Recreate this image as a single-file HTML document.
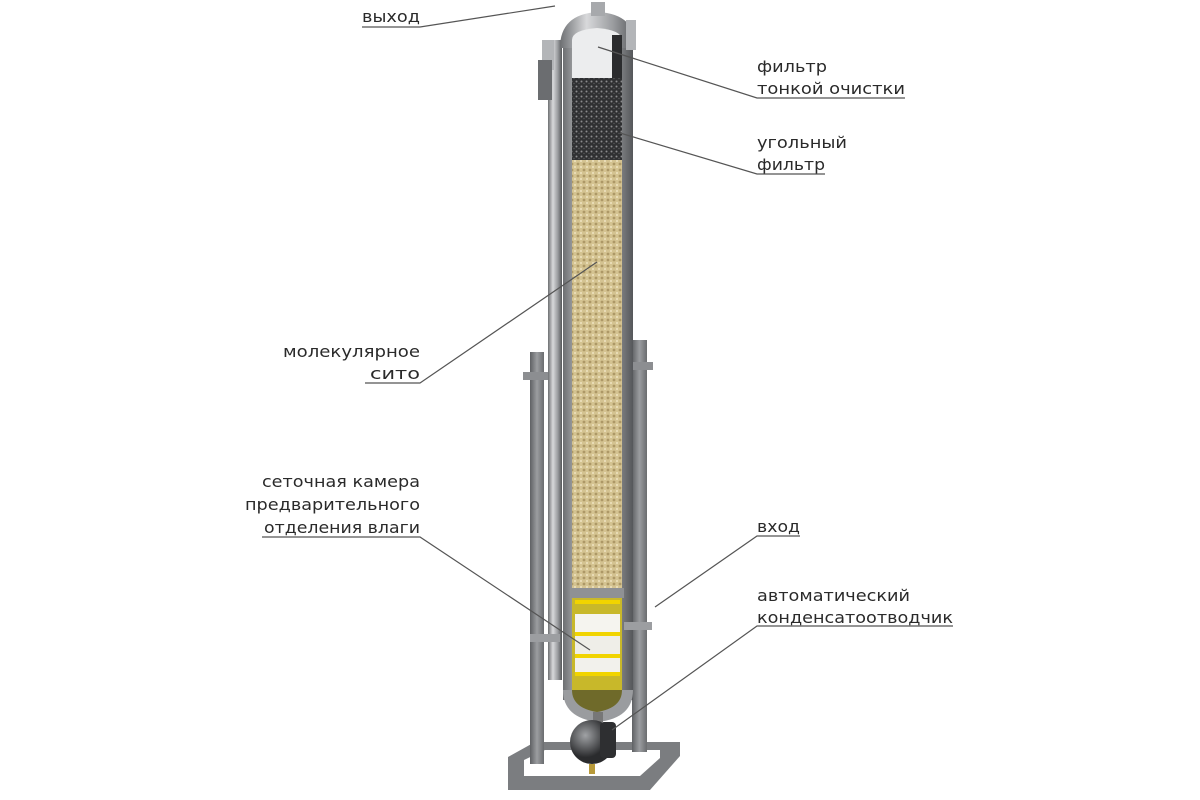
<!DOCTYPE html>
<html><head><meta charset="utf-8"><style>
html,body{margin:0;padding:0;background:#fff;width:1200px;height:800px;overflow:hidden}
text{font-family:"DejaVu Sans","Liberation Sans",sans-serif;font-size:16px;fill:#2a2a2a}
</style></head><body>
<svg width="1200" height="800" viewBox="0 0 1200 800" xmlns="http://www.w3.org/2000/svg">
<defs>
<linearGradient id="steel" x1="0" x2="1">
<stop offset="0" stop-color="#6d6f72"/><stop offset=".35" stop-color="#d8d9db"/><stop offset=".7" stop-color="#9a9c9f"/><stop offset="1" stop-color="#55575a"/></linearGradient>
<linearGradient id="post" x1="0" x2="1">
<stop offset="0" stop-color="#5f6164"/><stop offset=".5" stop-color="#9b9da0"/><stop offset="1" stop-color="#6a6c6f"/></linearGradient>
<pattern id="sieve" width="6" height="6" patternUnits="userSpaceOnUse">
<rect width="6" height="6" fill="#d4c391"/><circle cx="2" cy="2" r="1.4" fill="#ad9866"/><circle cx="5" cy="5" r="1" fill="#efe3c0"/></pattern>
<pattern id="carbon" width="5" height="5" patternUnits="userSpaceOnUse">
<rect width="5" height="5" fill="#2f3032"/><circle cx="1.5" cy="1.5" r="1" fill="#8a8b8d"/><circle cx="4" cy="3.5" r=".7" fill="#5a5b5d"/></pattern>
<radialGradient id="ball" cx=".35" cy=".35"><stop offset="0" stop-color="#a0a2a5"/><stop offset="1" stop-color="#2a2b2d"/></radialGradient>
</defs>
<polygon points="508,757 535,742 680,742 680,756 650,790 508,790" fill="#7b7d80"/>
<polygon points="524,760 545,750 660,750 660,758 640,776 524,776" fill="#fff"/>
<rect x="530" y="352" width="14" height="412" fill="url(#post)"/>
<rect x="632" y="340" width="15" height="412" fill="url(#post)"/>
<rect x="523" y="372" width="28" height="8" fill="#8c8e91"/>
<rect x="625" y="362" width="28" height="8" fill="#8c8e91"/>
<rect x="548" y="40" width="14" height="640" fill="url(#steel)"/>
<rect x="563" y="40" width="70" height="660" fill="url(#steel)"/>
<path d="M560,48 Q560,14 598,12 Q636,14 636,48 Z" fill="url(#steel)"/>
<rect x="591" y="2" width="14" height="14" fill="#a7a9ac"/>
<path d="M563,690 Q563,718 598,722 Q633,718 633,690 Z" fill="#9a9c9f"/>
<rect x="542" y="40" width="12" height="30" fill="#b3b5b8"/>
<rect x="626" y="20" width="10" height="30" fill="#b3b5b8"/>
<rect x="538" y="60" width="14" height="40" fill="#6b6d70"/>
<path d="M572,80 L572,40 Q572,30 597,28 Q622,30 622,40 L622,80 Z" fill="#ecedee"/>
<rect x="612" y="35" width="10" height="45" fill="#2b2c2e"/>
<rect x="572" y="78" width="50" height="82" fill="url(#carbon)"/>
<rect x="572" y="160" width="50" height="430" fill="url(#sieve)"/>
<rect x="570" y="588" width="54" height="10" fill="#8f9194"/>
<rect x="572" y="598" width="50" height="92" fill="#c8b82a"/>
<rect x="575" y="614" width="45" height="18" fill="#f5f4ef"/>
<rect x="575" y="636" width="45" height="18" fill="#efeee8"/>
<rect x="575" y="658" width="45" height="14" fill="#f2f1ec"/>
<rect x="575" y="600" width="45" height="4" fill="#f1d400"/>
<rect x="575" y="632" width="45" height="4" fill="#f1d400"/>
<rect x="575" y="654" width="45" height="4" fill="#f1d400"/>
<rect x="575" y="672" width="45" height="4" fill="#f1d400"/>
<path d="M572,690 Q572,708 597,712 Q622,708 622,690 Z" fill="#6f6a2a"/>
<rect x="530" y="634" width="30" height="8" fill="#9c9ea1"/>
<rect x="624" y="622" width="28" height="8" fill="#9c9ea1"/>
<rect x="593" y="712" width="10" height="10" fill="#777"/>
<circle cx="592" cy="742" r="22" fill="url(#ball)"/>
<rect x="600" y="722" width="16" height="36" rx="4" fill="#2e2f31"/>
<rect x="589" y="764" width="6" height="10" fill="#b89a3a"/>
<g stroke="#555" stroke-width="1.2" fill="none">
<polyline points="362,27 420,27 555,6"/>
<polyline points="905,98 757,98 598,47"/>
<polyline points="825,174 757,174 620,133"/>
<polyline points="365,383 420,383 597,262"/>
<polyline points="262,537 420,537 590,650"/>
<polyline points="800,536 757,536 655,607"/>
<polyline points="953,626 757,626 612,730"/>
</g>
<g lengthAdjust="spacingAndGlyphs">
<text x="362" y="22" textLength="58" lengthAdjust="spacingAndGlyphs">выход</text>
<text x="757" y="72" textLength="70" lengthAdjust="spacingAndGlyphs">фильтр</text>
<text x="757" y="94" textLength="148" lengthAdjust="spacingAndGlyphs">тонкой очистки</text>
<text x="757" y="148" textLength="90" lengthAdjust="spacingAndGlyphs">угольный</text>
<text x="757" y="170" textLength="68" lengthAdjust="spacingAndGlyphs">фильтр</text>
<text x="283" y="357" textLength="137" lengthAdjust="spacingAndGlyphs">молекулярное</text>
<text x="370" y="379" textLength="50" lengthAdjust="spacingAndGlyphs">сито</text>
<text x="262" y="487" textLength="158" lengthAdjust="spacingAndGlyphs">сеточная камера</text>
<text x="245" y="510" textLength="175" lengthAdjust="spacingAndGlyphs">предварительного</text>
<text x="264" y="533" textLength="156" lengthAdjust="spacingAndGlyphs">отделения влаги</text>
<text x="757" y="532" textLength="43" lengthAdjust="spacingAndGlyphs">вход</text>
<text x="757" y="601" textLength="153" lengthAdjust="spacingAndGlyphs">автоматический</text>
<text x="757" y="623" textLength="196" lengthAdjust="spacingAndGlyphs">конденсатоотводчик</text>
</g>
</svg>
</body></html>
